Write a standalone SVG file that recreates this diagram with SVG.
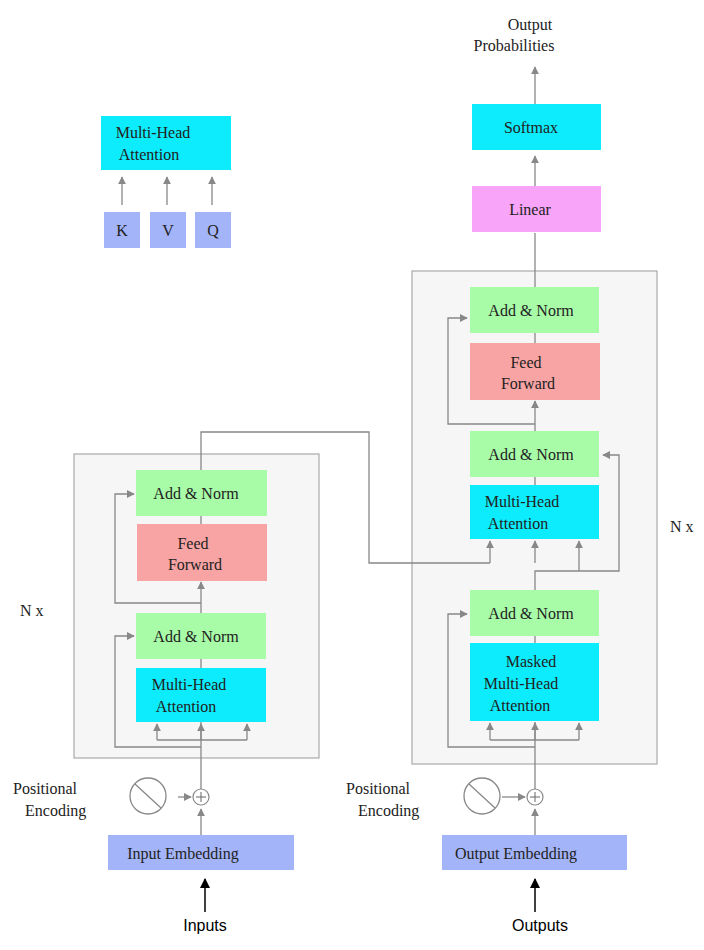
<svg xmlns="http://www.w3.org/2000/svg" width="704" height="950" viewBox="0 0 704 950">
<defs>
<marker id="ah" viewBox="0 0 10 10" refX="9" refY="5" markerWidth="8" markerHeight="8" markerUnits="userSpaceOnUse" orient="auto"><path d="M0,0L10,5L0,10z" fill="#888"/></marker>
<marker id="bh" viewBox="0 0 10 10" refX="9" refY="5" markerWidth="10" markerHeight="10" markerUnits="userSpaceOnUse" orient="auto"><path d="M0,0L10,5L0,10z" fill="#000"/></marker>
<style>
text{font-family:"Liberation Serif",serif;font-size:16px;fill:#222;text-anchor:middle}
.s{font-family:"Liberation Sans",Arial,sans-serif;fill:#000}
.l{text-anchor:start}
.g{fill:#a8fca8}.r{fill:#f8a4a4}.c{fill:#0cecfc}.b{fill:#a4b4f8}.p{fill:#f8a4f8}
.box{fill:#f6f6f6;stroke:#aaa;stroke-width:1.2}
.w{fill:none;stroke:#888;stroke-width:1.3}
</style>
</defs>
<rect width="704" height="950" fill="#fff"/>
<rect class="box" x="74" y="454" width="245" height="304"/>
<rect class="box" x="412" y="271" width="245" height="493"/>
<g id="connectors" class="w">
<path d="M122,205V177" marker-end="url(#ah)"/><path d="M167,205V177" marker-end="url(#ah)"/><path d="M212,205V177" marker-end="url(#ah)"/>
<path d="M201,835V809" marker-end="url(#ah)"/>
<path d="M178,797H191" marker-end="url(#ah)"/>
<path d="M201,789V722"/>
<path d="M157,740H247"/><path d="M157,740V724" marker-end="url(#ah)"/><path d="M201,740V724" marker-end="url(#ah)"/><path d="M247,740V724" marker-end="url(#ah)"/>
<path d="M201,747H115V636H134" marker-end="url(#ah)"/>
<path d="M201,659V668"/>
<path d="M201,613V582" marker-end="url(#ah)"/>
<path d="M201,603H115V494H134" marker-end="url(#ah)"/>
<path d="M201,516V524"/>
<path d="M201,470V432H369V563H490"/>
<path d="M490,563V541" marker-end="url(#ah)"/><path d="M535,563V541" marker-end="url(#ah)"/>
<path d="M535,835V809" marker-end="url(#ah)"/>
<path d="M502,797H525" marker-end="url(#ah)"/>
<path d="M535,789V722"/>
<path d="M490,740H579"/><path d="M490,740V723" marker-end="url(#ah)"/><path d="M535,740V723" marker-end="url(#ah)"/><path d="M579,740V723" marker-end="url(#ah)"/>
<path d="M535,747H448V614H467" marker-end="url(#ah)"/>
<path d="M535,636V643"/>
<path d="M535,590V571H619V455H603" marker-end="url(#ah)"/>
<path d="M579,571V541" marker-end="url(#ah)"/>
<path d="M535,477V485"/>
<path d="M535,431V401" marker-end="url(#ah)"/>
<path d="M535,424H448V318H467" marker-end="url(#ah)"/>
<path d="M535,333V343"/>
<path d="M535,287V233"/>
<path d="M535,186V156" marker-end="url(#ah)"/>
<path d="M535,104V67" marker-end="url(#ah)"/>
<path d="M205,912V879" stroke="#000" stroke-width="1.5" marker-end="url(#bh)"/>
<path d="M535,912V879" stroke="#000" stroke-width="1.5" marker-end="url(#bh)"/>
</g>
<g id="legend-mha"><rect class="c" x="101" y="116" width="130" height="54"/><text x="153" y="138">Multi-Head</text><text x="149" y="160">Attention</text></g>
<g id="legend-k"><rect class="b" x="104" y="212" width="36" height="36"/><text x="122" y="236">K</text></g>
<g id="legend-v"><rect class="b" x="150" y="212" width="36" height="36"/><text x="168" y="236">V</text></g>
<g id="legend-q"><rect class="b" x="195" y="212" width="36" height="36"/><text x="213" y="236">Q</text></g>
<g id="enc-addnorm2"><rect class="g" x="136" y="470" width="131" height="46"/><text x="196" y="499">Add &amp; Norm</text></g>
<g id="enc-ff"><rect class="r" x="137" y="524" width="130" height="57"/><text x="193" y="549">Feed</text><text x="195" y="570">Forward</text></g>
<g id="enc-addnorm1"><rect class="g" x="136" y="613" width="130" height="46"/><text x="196" y="642">Add &amp; Norm</text></g>
<g id="enc-mha"><rect class="c" x="136" y="668" width="130" height="54"/><text x="189" y="690">Multi-Head</text><text x="186" y="712">Attention</text></g>
<g id="enc-pe"><circle cx="148" cy="796" r="18" fill="none" stroke="#888" stroke-width="1.3"/><path d="M135,784L161,808" stroke="#888" stroke-width="1.3"/><circle cx="201" cy="797" r="8" fill="#fff" stroke="#888" stroke-width="1.2"/><path d="M196,797H206M201,792V802" stroke="#666"/></g>
<g id="enc-pe-label"><text class="l" x="13" y="794">Positional</text><text class="l" x="25" y="816">Encoding</text></g>
<g id="enc-nx"><text class="l" x="20" y="616">N x</text></g>
<g id="input-emb"><rect class="b" x="108" y="835" width="186" height="35"/><text x="183" y="859">Input Embedding</text></g>
<g id="inputs"><text class="s" x="205" y="931">Inputs</text></g>
<g id="dec-addnorm3"><rect class="g" x="470" y="287" width="129" height="46"/><text x="531" y="316">Add &amp; Norm</text></g>
<g id="dec-ff"><rect class="r" x="470" y="343" width="130" height="57"/><text x="526" y="368">Feed</text><text x="528" y="389">Forward</text></g>
<g id="dec-addnorm2"><rect class="g" x="470" y="431" width="129" height="46"/><text x="531" y="460">Add &amp; Norm</text></g>
<g id="dec-mha"><rect class="c" x="470" y="485" width="129" height="54"/><text x="522" y="507">Multi-Head</text><text x="518" y="529">Attention</text></g>
<g id="dec-addnorm1"><rect class="g" x="470" y="590" width="129" height="46"/><text x="531" y="619">Add &amp; Norm</text></g>
<g id="dec-mmha"><rect class="c" x="470" y="643" width="129" height="78"/><text x="531" y="667">Masked</text><text x="521" y="689">Multi-Head</text><text x="520" y="711">Attention</text></g>
<g id="dec-pe"><circle cx="482" cy="796" r="18" fill="none" stroke="#888" stroke-width="1.3"/><path d="M469,784L495,808" stroke="#888" stroke-width="1.3"/><circle cx="535" cy="797" r="8" fill="#fff" stroke="#888" stroke-width="1.2"/><path d="M530,797H540M535,792V802" stroke="#666"/></g>
<g id="dec-pe-label"><text class="l" x="346" y="794">Positional</text><text class="l" x="358" y="816">Encoding</text></g>
<g id="dec-nx"><text class="l" x="670" y="532">N x</text></g>
<g id="output-emb"><rect class="b" x="442" y="835" width="185" height="35"/><text x="516" y="859">Output Embedding</text></g>
<g id="outputs"><text class="s" x="540" y="931">Outputs</text></g>
<g id="linear"><rect class="p" x="472" y="186" width="129" height="46"/><text x="530" y="215">Linear</text></g>
<g id="softmax"><rect class="c" x="472" y="104" width="129" height="46"/><text x="531" y="133">Softmax</text></g>
<g id="out-probs"><text x="530" y="30">Output</text><text x="514" y="51">Probabilities</text></g>
</svg>
